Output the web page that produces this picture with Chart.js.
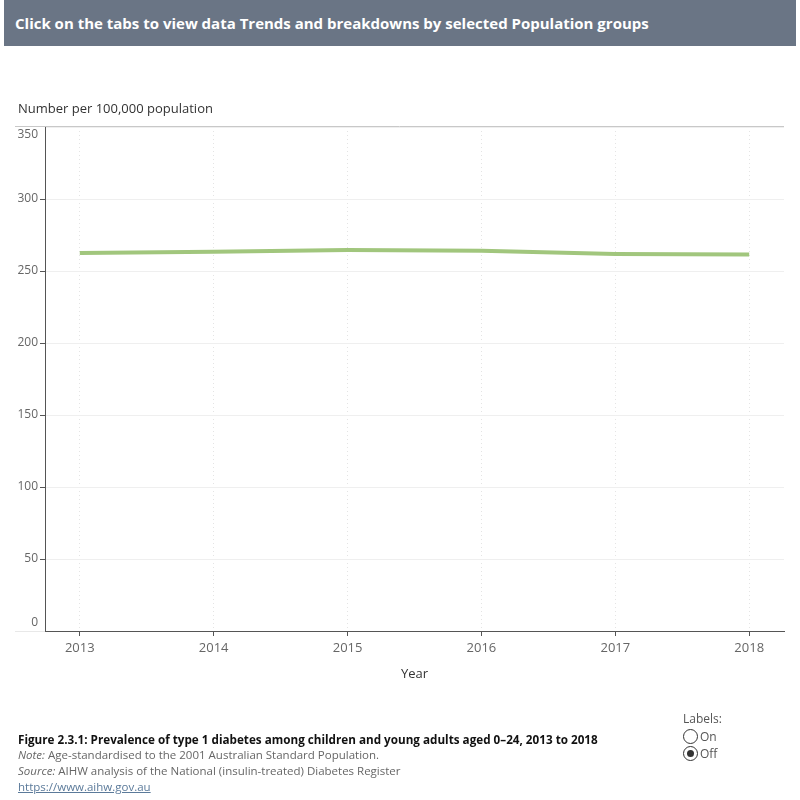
<!DOCTYPE html>
<html>
<head>
<meta charset="utf-8">
<script src="https://cdn.jsdelivr.net/npm/chart.js@4"></script>
<style>
  body { margin: 0; background: #fff; font-family: "Open Sans", "Noto Sans", sans-serif; }
  #wrap { position: relative; width: 800px; height: 800px; overflow: hidden; }
  #hdr { position: absolute; left: 4px; top: 0; width: 792px; height: 46px; background: #6a7585;
         color: #fff; font-weight: bold; font-size: 15px; line-height: 46px; padding-left: 11px; box-sizing: border-box; }
  #ytitle { position: absolute; left: 18px; top: 99px; font-size: 13px; color: #333; }
  #chartbox { position: absolute; left: 0; top: 0; width: 800px; height: 800px; }
  #foot { position: absolute; left: 18px; top: 731px; font-size: 11.5px; color: #666; line-height: 16px; }
  #foot .t { color: #111; font-weight: bold; font-size: 11.7px; }
  #foot a { color: #5b7a9a; }
  #lbls { position: absolute; left: 683px; top: 710px; font-size: 12px; color: #555; line-height: 17.5px; }
  .r { display: inline-block; width: 15px; height: 15px; border: 1.3px solid #333; border-radius: 50%;
       vertical-align: -3px; margin-right: 2px; box-sizing: border-box; position: relative; }
  .r.on::after { content: ""; position: absolute; left: 2.5px; top: 2.5px; width: 7.5px; height: 7.5px; background: #333; border-radius: 50%; }
</style>
</head>
<body>
<div id="wrap">
  <div id="chartbox"><canvas id="c" width="800" height="800"></canvas></div>
  <div id="hdr">Click on the tabs to view data Trends and breakdowns by selected Population groups</div>
  <div id="ytitle">Number per 100,000 population</div>
  <div id="foot">
    <div class="t">Figure 2.3.1: Prevalence of type 1 diabetes among children and young adults aged 0–24, 2013 to 2018</div>
    <div><i>Note:</i> Age-standardised to the 2001 Australian Standard Population.</div>
    <div><i>Source:</i> AIHW analysis of the National (insulin-treated) Diabetes Register</div>
    <div><a href="#">https://www.aihw.gov.au</a></div>
  </div>
  <div id="lbls">
    <div>Labels:</div>
    <div><span class="r"></span>On</div>
    <div><span class="r on"></span>Off</div>
  </div>
</div>
<script>
const years = [2013, 2014, 2015, 2016, 2017, 2018];
const prevalence = [262.5, 263.4, 264.6, 264.0, 261.8, 261.4];
const yTicks = [0, 50, 100, 150, 200, 250, 300, 350];

const isEnd = v => v === yTicks[0] || v === yTicks[yTicks.length - 1];

// Tableau keeps the end labels of the axis inside the plot: 0 nudged up, 350 nudged down
const frame = {
  id: 'frame',
  afterDraw(chart) {
    const ctx = chart.ctx, a = chart.chartArea, y = chart.scales.y;
    ctx.save();
    ctx.strokeStyle = '#c8c8c8';
    ctx.lineWidth = 1;
    ctx.beginPath();
    ctx.moveTo(15, a.top - 0.5);
    ctx.lineTo(a.right, a.top - 0.5);
    ctx.stroke();
    ctx.strokeStyle = '#e8e8e8';
    ctx.beginPath();
    ctx.moveTo(15, a.bottom + 0.5);
    ctx.lineTo(a.left, a.bottom + 0.5);
    ctx.stroke();
    ctx.fillStyle = '#666';
    ctx.font = '12px "Open Sans"';
    ctx.textAlign = 'right';
    ctx.textBaseline = 'middle';
    ctx.fillText(String(yTicks[0]), a.left - 7, y.getPixelForValue(yTicks[0]) - 8);
    const top = yTicks[yTicks.length - 1];
    ctx.fillText(String(top), a.left - 7, y.getPixelForValue(top) + 8);
    ctx.restore();
  }
};

new Chart(document.getElementById('c'), {
  type: 'line',
  data: {
    datasets: [{
      data: years.map((y, i) => ({ x: y, y: prevalence[i] })),
      borderColor: '#a1c67d',
      borderWidth: 4,
      pointRadius: 0,
      tension: 0
    }]
  },
  options: {
    responsive: false,
    animation: false,
    layout: { padding: { left: 15, top: 127, right: 16, bottom: 114 } },
    plugins: { legend: { display: false }, tooltip: { enabled: false } },
    scales: {
      x: {
        type: 'linear',
        min: 2012.74,
        max: 2018.26,
        afterBuildTicks: s => { s.ticks = years.map(v => ({ value: v })); },
        afterFit: s => { s.height = 55; },
        ticks: { color: '#666', font: { family: 'Open Sans', size: 13 }, padding: 4, callback: v => String(v) },
        grid: { color: '#e4e4e4', tickColor: '#555', tickLength: 5, lineWidth: 1 },
        border: { color: '#555', dash: [1, 3] },
        title: { display: true, text: 'Year', color: '#333', font: { family: 'Open Sans', size: 13 }, padding: { top: 2 } }
      },
      y: {
        min: 0,
        max: 350,
        afterBuildTicks: s => { s.ticks = yTicks.map(v => ({ value: v })); },
        afterFit: s => { s.width = 30; },
        ticks: {
          color: '#666', font: { family: 'Open Sans', size: 12 }, padding: 2,
          callback: v => isEnd(v) ? '' : String(v)
        },
        grid: {
          color: '#efefef', tickLength: 5,
          tickColor: c => (c.tick && isEnd(c.tick.value)) ? 'rgba(0,0,0,0)' : '#555'
        },
        border: { color: '#555' }
      }
    }
  },
  plugins: [frame]
});
</script>
</body>
</html>
